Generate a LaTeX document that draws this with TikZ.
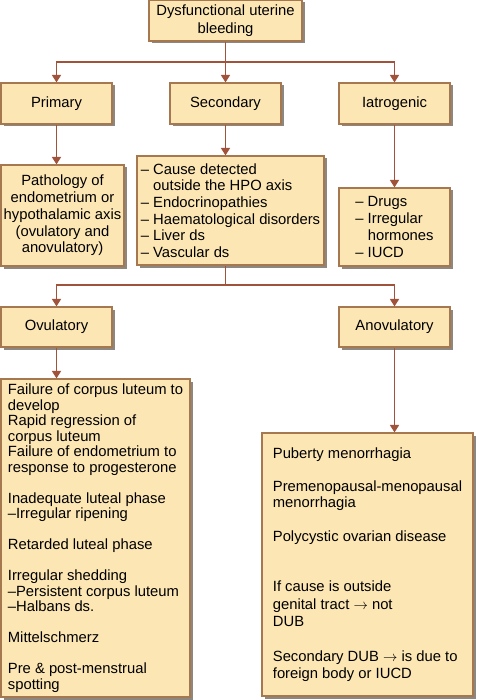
\documentclass[tikz,border=0pt]{standalone}
\usepackage{fontspec}
\setmainfont{Liberation Sans}
\usetikzlibrary{arrows.meta,shadows}
\definecolor{boxfill}{HTML}{FCE6B4}
\definecolor{boxline}{HTML}{A67850}
\definecolor{arrcol}{HTML}{A0523A}
\definecolor{shadowcol}{HTML}{7F7A72}
\begin{document}
\begin{tikzpicture}[x=1pt,y=-1pt,
  box/.style={draw=boxline, line width=1.1pt, fill=boxfill, inner sep=0pt,
    drop shadow={shadow xshift=2.5pt, shadow yshift=-2.5pt, fill=shadowcol, opacity=0.9},
    font=\fontsize{14.8}{16.7}\selectfont},
  lst/.style={align=left},
  ctr/.style={align=center},
  arr/.style={draw=arrcol, line width=1.6pt, -{Triangle[width=9pt,length=7.5pt]}},
  ln/.style={draw=arrcol, line width=1.6pt}]
\useasboundingbox (0,0) rectangle (476,700);

\node[box, ctr, minimum width=153pt, minimum height=41pt, font=\fontsize{14.8}{17.7}\selectfont] (top) at (225.5,20.5) {Dysfunctional uterine\\ bleeding};
\node[box, minimum width=111pt, minimum height=41pt] (prim) at (56.5,103.5) {Primary};
\node[box, minimum width=111pt, minimum height=41pt] (sec) at (225.5,103.5) {Secondary};
\node[box, minimum width=111pt, minimum height=41pt] (iat) at (394.5,103.5) {Iatrogenic};

\node[box, ctr, minimum width=123pt, minimum height=101pt] (path) at (62.5,215.5) {Pathology of\\ endometrium or\\ hypothalamic axis\\ (ovulatory and\\ anovulatory)};
\node[box, lst, minimum width=187pt, minimum height=109pt] (seclist) at (230.5,210.5) {– Cause detected\\ \hspace*{12.4pt}outside the HPO axis\\ – Endocrinopathies\\ – Haematological disorders\\ – Liver ds\\ – Vascular ds};
\node[box, lst, minimum width=111pt, minimum height=78pt] (iatlist) at (394.5,227) {– Drugs\\ – Irregular\\ \hspace*{12.4pt}hormones\\ – IUCD};

\node[box, minimum width=111pt, minimum height=40pt] (ovu) at (56.5,327) {Ovulatory};
\node[box, minimum width=111pt, minimum height=40pt] (anov) at (394.5,327) {Anovulatory};

\node[box, lst, minimum width=189pt, minimum height=318pt, font=\fontsize{14.8}{15.5}\selectfont] (ovlist) at (95.5,538) {Failure of corpus luteum to\\ develop\\ Rapid regression of\\ corpus luteum\\ Failure of endometrium to\\ response to progesterone\\[15.5pt] Inadequate luteal phase\\ –Irregular ripening\\[15.5pt] Retarded luteal phase\\[15.5pt] Irregular shedding\\ –Persistent corpus luteum\\ –Halbans ds.\\[15.5pt] Mittelschmerz\\[15.5pt] Pre \& post-menstrual\\ spotting};

\node[box, lst, minimum width=211pt, minimum height=263pt] (anlist) at (367.5,564.5) {Puberty menorrhagia\\[16.5pt] Premenopausal-menopausal\\ menorrhagia\\[17pt] Polycystic ovarian disease\\[33pt] If cause is outside\\[1.5pt] genital tract $\rightarrow$ not\\ DUB\\[19pt] Secondary DUB $\rightarrow$ is due to\\ foreign body or IUCD};

\coordinate (h1) at (0,62);
\coordinate (h2) at (0,285);
\draw[ln] (top.south) -- (top.south |- h1);
\draw[arr] (top.south |- h1) -- (sec.north);
\draw[arr] (top.south |- h1) -| (prim.north);
\draw[arr] (top.south |- h1) -| (iat.north);
\draw[arr] (prim.south) -- (prim.south |- path.north);
\draw[arr] (sec.south) -- (sec.south |- seclist.north);
\draw[arr] (iat.south) -- (iatlist.north);
\draw[ln] (sec.south |- seclist.south) -- (sec.south |- h2);
\draw[arr] (sec.south |- h2) -| (ovu.north);
\draw[arr] (sec.south |- h2) -| (anov.north);
\draw[arr] (ovu.south) -- (ovu.south |- ovlist.north);
\draw[arr] (anov.south) -- (anov.south |- anlist.north);
\end{tikzpicture}
\end{document}
